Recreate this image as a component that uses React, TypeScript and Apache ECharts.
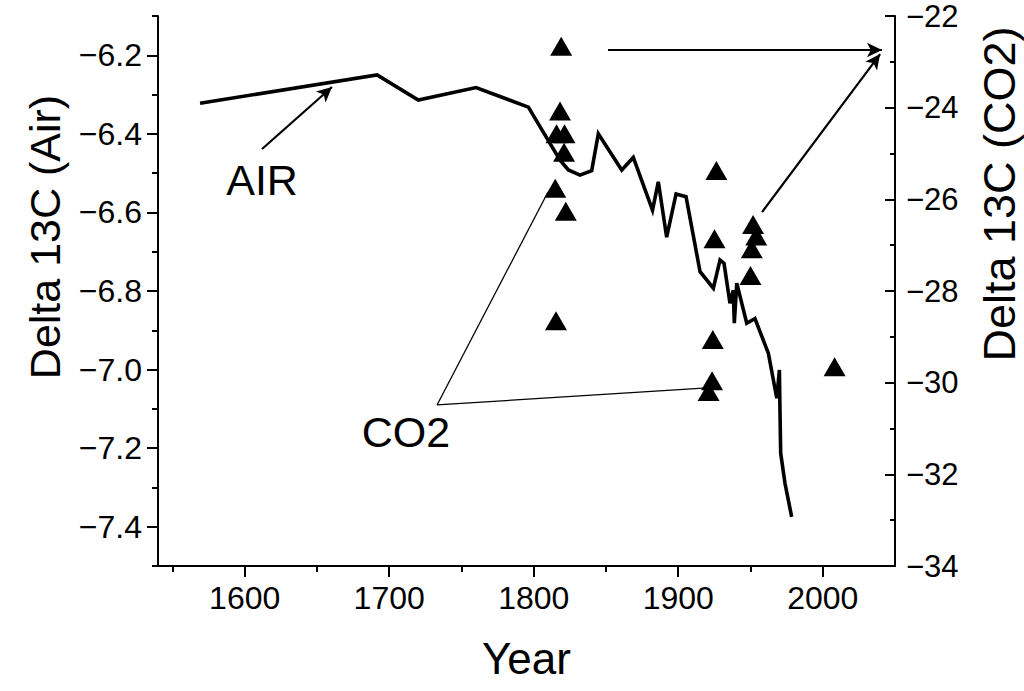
import React, { useEffect, useRef } from "react";
import * as echarts from "echarts";

// ---- data ----
const airYears = [
  1569.1, 1691.6, 1720.1, 1760.1, 1796.3, 1818.2, 1824.0, 1832.0, 1840.1, 1844.7,
  1860.9, 1868.9, 1882.2, 1886.2, 1892.0, 1898.5, 1905.4, 1915.1, 1924.3, 1928.9,
  1931.7, 1935.8, 1938.1, 1938.8, 1940.5, 1947.4, 1953.1, 1962.4, 1968.2, 1970.0,
  1970.4, 1970.9, 1973.9, 1978.5,
];
const airValues = [
  -6.322, -6.25, -6.314, -6.282, -6.332, -6.467, -6.492, -6.505, -6.494, -6.4,
  -6.492, -6.46, -6.594, -6.522, -6.663, -6.553, -6.56, -6.751, -6.793, -6.721,
  -6.73, -6.831, -6.798, -6.882, -6.78, -6.882, -6.87, -6.959, -7.073, -7.001,
  -7.103, -7.213, -7.29, -7.375,
];
const co2Years = [
  1819.0, 1818.2, 1815.8, 1821.3, 1821.0, 1814.9, 1822.2, 1815.4,
  1926.4, 1925.1, 1923.9, 1951.8, 1954.0, 1950.9, 1950.0, 1923.4, 1921.0, 2008.2,
];
const co2Values = [
  -22.66, -24.07, -24.57, -24.57, -24.97, -25.76, -26.26, -28.65,
  -25.37, -26.86, -29.06, -26.55, -26.8, -27.08, -27.66, -29.96, -30.19, -29.65,
];
const xTickLabels = [1600, 1700, 1800, 1900, 2000];
const xMinorTicks = [1550, 1650, 1750, 1850, 1950];
const leftTickLabels = [-7.4, -7.2, -7.0, -6.8, -6.6, -6.4, -6.2];
const leftMinorTicks = [-7.5, -7.3, -7.1, -6.9, -6.7, -6.5, -6.3, -6.1];
// annotation lines (year, Delta 13C Air scale): [fromX, fromY, toX, toY, arrow]
const annotationLines: [number, number, number, number, boolean][] = [
  [1612.0, -6.4385, 1660.4, -6.2807, true],
  [1733.1, -7.09, 1809.9, -6.548, false],
  [1733.1, -7.09, 1917.2, -7.047, false],
  [1851.4, -6.1865, 2041.0, -6.1865, true],
  [1958.0, -6.599, 2039.7, -6.197, true],
];
const annotationTexts: [string, number, number][] = [
  ["AIR", 1612.0, -6.5175],
  ["CO2", 1711.6, -7.159],
];

const FONT = "'Liberation Sans', Arial, Helvetica, sans-serif";
const fmtMinus = (v: number, d: number) => v.toFixed(d).replace("-", "\u2212");

export default function App() {
  const ref = useRef<HTMLDivElement>(null);
  useEffect(() => {
    if (!ref.current) return;
    const chart = echarts.init(ref.current, undefined, { renderer: "svg" });
    const black = "#000";
    const airData = airYears.map((y, i) => [y, airValues[i]]);
    const co2Data = co2Years.map((y, i) => [y, co2Values[i]]);
    const mlData = annotationLines.map(([x1, y1, x2, y2, arrow]) => [
      {
        coord: [x1, y1],
        symbol: "none",
        lineStyle: { width: arrow ? 2.2 : 1.3, color: black, type: "solid" },
      },
      { coord: [x2, y2], symbol: arrow ? "arrow" : "none" },
    ]);
    const mpData = annotationTexts.map(([t, x, y]) => ({ name: t, coord: [x, y] }));

    chart.setOption({
      animation: false,
      backgroundColor: "#fff",
      grid: { left: 158, right: 129, top: 16, bottom: 125, containLabel: false },
      xAxis: [
        {
          type: "value",
          min: 1540,
          max: 2050,
          position: "bottom",
          name: "Year",
          nameLocation: "middle",
          nameGap: 70,
          nameTextStyle: { fontSize: 44, color: black, fontFamily: FONT },
          axisLine: { show: true, onZero: false, lineStyle: { color: black, width: 2 } },
          axisTick: { show: true, length: 11, customValues: xTickLabels, lineStyle: { color: black, width: 2 } },
          axisLabel: {
            customValues: xTickLabels,
            fontSize: 32,
            color: black,
            margin: 16,
            fontFamily: FONT,
            formatter: (v: number) => String(v),
          },
          splitLine: { show: false },
        },
        {
          type: "value",
          min: 1540,
          max: 2050,
          position: "bottom",
          offset: 0,
          axisLine: { show: false, onZero: false },
          axisTick: { show: true, length: 6, customValues: xMinorTicks, lineStyle: { color: black, width: 2 } },
          axisLabel: { show: false },
          splitLine: { show: false },
        },
      ],
      yAxis: [
        {
          type: "value",
          min: -7.5,
          max: -6.1,
          position: "left",
          axisLine: { show: true, onZero: false, lineStyle: { color: black, width: 2 } },
          axisTick: { show: true, length: 11, customValues: leftTickLabels, lineStyle: { color: black, width: 2 } },
          axisLabel: {
            customValues: leftTickLabels,
            fontSize: 32,
            color: black,
            margin: 16,
            fontFamily: FONT,
            formatter: (v: number) => fmtMinus(v, 1),
          },
          splitLine: { show: false },
        },
        {
          type: "value",
          min: -34,
          max: -22,
          interval: 2,
          position: "right",
          axisLine: { show: true, onZero: false, lineStyle: { color: black, width: 2 } },
          axisTick: { show: true, inside: true, length: 10, lineStyle: { color: black, width: 2 } },
          minorTick: { show: true, splitNumber: 2, length: 5, lineStyle: { color: black, width: 2 } },
          axisLabel: {
            fontSize: 31,
            color: black,
            margin: 11,
            fontFamily: FONT,
            formatter: (v: number) => fmtMinus(v, 0),
          },
          splitLine: { show: false },
        },
        {
          type: "value",
          min: -7.5,
          max: -6.1,
          position: "left",
          offset: 0,
          axisLine: { show: false, onZero: false },
          axisTick: { show: true, length: 6, customValues: leftMinorTicks, lineStyle: { color: black, width: 2 } },
          axisLabel: { show: false },
          splitLine: { show: false },
        },
      ],
      graphic: [
        {
          type: "text",
          x: 45,
          y: 237,
          rotation: Math.PI / 2,
          style: {
            text: "Delta 13C (Air)",
            fontSize: 43,
            fill: black,
            align: "center",
            verticalAlign: "middle",
            fontFamily: FONT,
          },
        },
        {
          type: "text",
          x: 999,
          y: 194,
          rotation: Math.PI / 2,
          style: {
            text: "Delta 13C (CO2)",
            fontSize: 45,
            fill: black,
            align: "center",
            verticalAlign: "middle",
            fontFamily: FONT,
          },
        },
      ],
      series: [
        {
          type: "line",
          xAxisIndex: 0,
          yAxisIndex: 0,
          data: airData,
          showSymbol: false,
          symbol: "none",
          lineStyle: { color: black, width: 3.6, join: "miter" },
          z: 3,
          markLine: {
            silent: true,
            animation: false,
            symbol: ["none", "arrow"],
            symbolSize: [11, 15],
            label: { show: false },
            emphasis: { disabled: true },
            data: mlData,
          },
          markPoint: {
            silent: true,
            animation: false,
            symbol: "circle",
            symbolSize: 0,
            itemStyle: { color: "rgba(0,0,0,0)" },
            label: {
              show: true,
              position: "inside",
              formatter: "{b}",
              fontSize: 43,
              color: black,
              fontFamily: FONT,
            },
            data: mpData,
          },
        },
        {
          type: "scatter",
          xAxisIndex: 0,
          yAxisIndex: 1,
          data: co2Data,
          symbol: "triangle",
          symbolSize: [22, 19],
          itemStyle: { color: black, opacity: 1 },
          z: 4,
        },
      ],
    });
    return () => chart.dispose();
  }, []);
  return (
    <div
      ref={ref}
      style={{ position: "absolute", left: 0, top: 0, width: 1024, height: 691 }}
    />
  );
}
